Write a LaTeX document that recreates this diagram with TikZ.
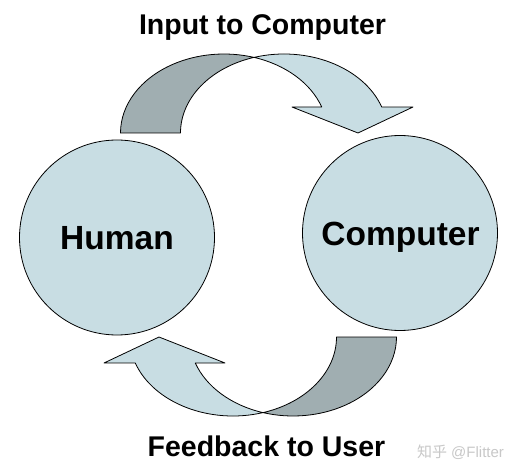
\documentclass[tikz,border=0pt]{standalone}
\usepackage{fontspec}
\setmainfont{Liberation Sans}
\newfontfamily\cjkfont{Noto Sans CJK SC}
\definecolor{lightfill}{RGB}{200,221,227}
\definecolor{darkfill}{RGB}{160,174,177}
\definecolor{wmark}{RGB}{200,200,200}
\tikzset{
  band/.style={draw=black, line width=0.8pt, line join=round},
  ball/.style={circle, draw=black, line width=0.8pt, fill=lightfill, minimum size=195pt, inner sep=0pt},
  balltext/.style={anchor=base, inner sep=0pt, font=\fontsize{33.5}{36}\selectfont\bfseries},
  caption/.style={anchor=base, inner sep=0pt, font=\fontsize{28.5}{32}\selectfont\bfseries},
  er/.style={x radius=103.5pt, y radius=79pt}
}
\newcommand{\curvedarrow}{%
  % back (dark) part of the ribbon
  \filldraw[band, fill=darkfill] (120.5,-133) arc[start angle=180, end angle=73.15, er]
     arc[start angle=106.85, end angle=180, er] -- cycle;
  % front (light) part with arrowhead
  \filldraw[band, fill=lightfill] (254,-57.4) arc[start angle=106.85, end angle=19.2, er]
     -- (413,-107) -- (358,-133) -- (292,-107) -- (321.7,-107)
     arc[start angle=19.2, end angle=73.15, er] -- cycle;
}
\begin{document}
\begin{tikzpicture}[x=1pt,y=1pt]
  \useasboundingbox (0,0) rectangle (522,-473);
  \fill[white] (0,0) rectangle (522,-473);
  \curvedarrow
  \begin{scope}[rotate around={180:(258.5,-235)}]
    \curvedarrow
  \end{scope}
  \node[ball] (human) at (117,-237.5) {};
  \node[ball] (computer) at (400,-233) {};
  \node[balltext] (humanlbl) at (117,-250) {Human};
  \node[balltext] (computerlbl) at (400.5,-245.5) {Computer};
  \node[caption] (input) at (262.5,-35) {Input to Computer};
  \node[caption] (feedback) at (266.5,-456) {Feedback to User};
  \node[anchor=base, inner sep=0pt, text=wmark, font=\fontsize{15}{17}\selectfont] (wm) at (460.5,-457) {{\cjkfont 知乎} @Flitter};
\end{tikzpicture}
\end{document}
